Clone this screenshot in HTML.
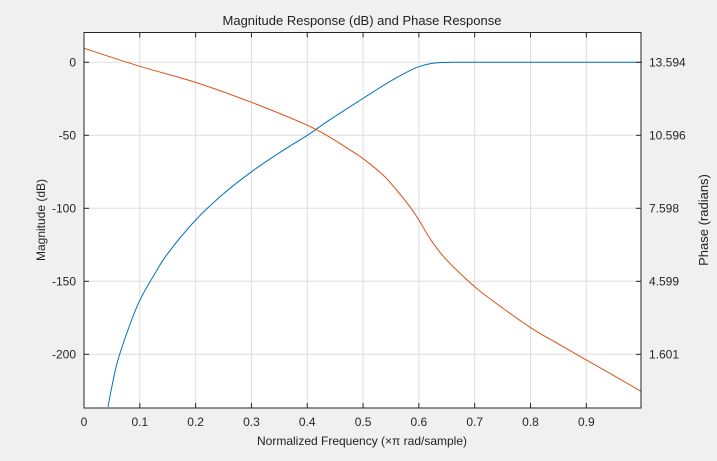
<!DOCTYPE html>
<html><head><meta charset="utf-8"><style>
body{margin:0;background:#f0f0f0;}
svg{display:block;font-family:"Liberation Sans",sans-serif;}
</style></head><body>
<svg id="chart" width="717" height="461">
<rect x="0" y="0" width="717" height="461" fill="#f0f0f0"/>
<rect x="84" y="32.5" width="557" height="375.5" fill="#fff"/>
<g id="grid"></g>
<g id="series"></g>
<g id="axes"></g>
<text x="362" y="25" text-anchor="middle" font-size="13" fill="#222">Magnitude Response (dB) and Phase Response</text>
<text x="362" y="445" text-anchor="middle" font-size="12" fill="#222">Normalized Frequency (×π rad/sample)</text>
<text transform="translate(45,220) rotate(-90)" text-anchor="middle" font-size="12" fill="#222">Magnitude (dB)</text>
<text transform="translate(708,220) rotate(-90)" text-anchor="middle" font-size="13" fill="#222">Phase (radians)</text>
</svg>
<script>
const xTicks=[0,0.1,0.2,0.3,0.4,0.5,0.6,0.7,0.8,0.9];
const magTicks=[0,-50,-100,-150,-200];
const phaseTicks=[13.594,10.596,7.598,4.599,1.601];
const magFreq=[0.043,0.05,0.06,0.08,0.1,0.125,0.15,0.2,0.25,0.3,0.35,0.4,0.44,0.5,0.54,0.565,0.585,0.6,0.62,0.64,0.66,0.7,1.0];
const magDb=[-236,-222,-205,-182,-163,-146,-131,-108,-90,-75,-62,-50,-39.5,-24.7,-15,-9.5,-5.5,-3,-1,-0.15,0,0,0];
const phFreq=[0,0.1,0.2,0.3,0.4,0.441,0.477,0.5,0.536,0.56,0.584,0.6,0.62,0.644,0.674,0.698,0.727,0.8,0.85,0.9,0.95,0.998];
const phRad=[14.17,13.43,12.77,11.95,11.01,10.51,9.99,9.64,8.96,8.35,7.66,7.12,6.35,5.62,4.92,4.42,3.89,2.7,2.03,1.37,0.72,0.08];
const L=84,R=641,T=32.5,B=408;
const X0=0,X1=0.998;
function sx(f){return L+(f-X0)/(X1-X0)*(R-L);}
function sy(d){return 62.3+(0-d)*1.46;}
function sp(r){return 62.3+(13.594-r)*24.35;}
const NS='http://www.w3.org/2000/svg';
function mk(tag,attrs,parent){const e=document.createElementNS(NS,tag);for(const k in attrs)e.setAttribute(k,attrs[k]);parent.appendChild(e);return e;}
const grid=document.getElementById('grid'),axes=document.getElementById('axes'),series=document.getElementById('series');
xTicks.forEach(t=>{const x=sx(t);
 const g=mk('line',{x1:x,x2:x,y1:T,y2:B,stroke:'#dedede','stroke-width':1},grid);
 
 
 mk('line',{x1:x,x2:x,y1:B,y2:B-5,stroke:'#262626'},axes);
 mk('line',{x1:x,x2:x,y1:T,y2:T+5,stroke:'#262626'},axes);
 const tx=mk('text',{x:x,y:B+18,'text-anchor':'middle','font-size':12,fill:'#262626'},axes);
 tx.textContent=String(t);
 
 
});
magTicks.forEach(t=>{const y=sy(t);
 const g=mk('line',{x1:L,x2:R,y1:y,y2:y,stroke:'#dedede','stroke-width':1},grid);
 
 
 mk('line',{x1:L,x2:L+5,y1:y,y2:y,stroke:'#262626'},axes);
 const tx=mk('text',{x:L-8,y:y+4,'text-anchor':'end','font-size':12,fill:'#262626'},axes);
 tx.textContent=String(t);
 
 
});
phaseTicks.forEach(t=>{const y=sp(t);
 mk('line',{x1:R-5,x2:R,y1:y,y2:y,stroke:'#262626'},axes);
 const tx=mk('text',{x:R+8,y:y+4,'font-size':12,fill:'#262626'},axes);
 tx.textContent=t.toFixed(3);
 
 
});
const frame=mk('rect',{x:L,y:T,width:R-L,height:B-T,fill:'none',stroke:'#262626'},axes);


function smoothPath(pts){let d='M'+pts[0][0]+','+pts[0][1];
 for(let i=0;i<pts.length-1;i++){const p0=pts[i-1]||pts[i],p1=pts[i],p2=pts[i+1],p3=pts[i+2]||p2;
  const c1=[p1[0]+(p2[0]-p0[0])/6,p1[1]+(p2[1]-p0[1])/6],c2=[p2[0]-(p3[0]-p1[0])/6,p2[1]-(p3[1]-p1[1])/6];
  d+=' C'+c1+' '+c2+' '+p2;}return d;}
const mp=magFreq.map((f,i)=>[sx(f),Math.min(sy(magDb[i]),B)]);
const m=mk('path',{d:smoothPath(mp),fill:'none',stroke:'#0072bd','stroke-width':1},series);


const pp=phFreq.map((f,i)=>[sx(f),sp(phRad[i])]);
const p=mk('path',{d:smoothPath(pp),fill:'none',stroke:'#d95319','stroke-width':1},series);


</script>
</body></html>
